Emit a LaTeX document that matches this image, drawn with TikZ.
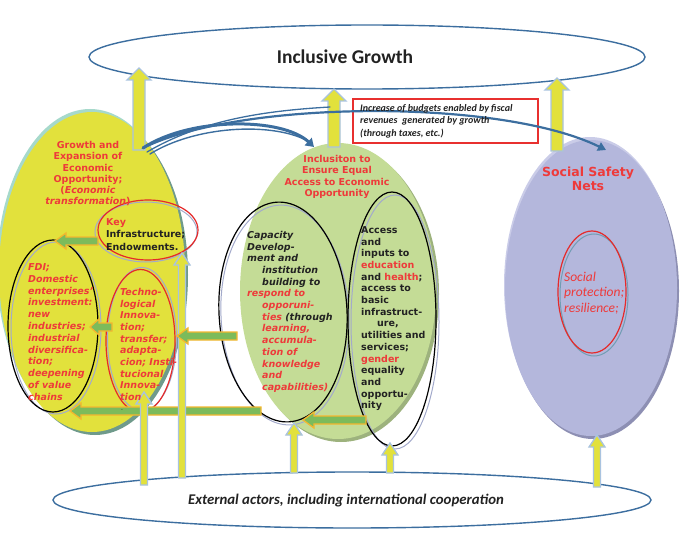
\documentclass[tikz,border=0pt]{standalone}
\usepackage{fontspec}
\setmainfont{DejaVu Sans}
\newfontfamily\calib{Carlito}
\usetikzlibrary{shapes.geometric,arrows.meta,calc}
\definecolor{yel}{HTML}{E2E13C}
\definecolor{yelrim}{HTML}{A6D9CB}
\definecolor{yelshadow}{HTML}{6F9A8B}
\definecolor{grn}{HTML}{C4DC96}
\definecolor{grnshadow}{HTML}{9DB27D}
\definecolor{pur}{HTML}{B4B7DC}
\definecolor{purrim}{HTML}{CACCE8}
\definecolor{purshadow}{HTML}{8D8FB3}
\definecolor{blu}{HTML}{3C6E9F}
\definecolor{txtred}{HTML}{EE3A3A}
\definecolor{boxred}{HTML}{E8302F}
\definecolor{ellred}{HTML}{E52A2A}
\definecolor{arrfill}{HTML}{7CBB5B}
\definecolor{arrborder}{HTML}{F4B72F}
\definecolor{upborder}{HTML}{A9C3DF}
\definecolor{dark}{HTML}{222222}
\definecolor{ghost}{HTML}{A3AACB}
\newcommand{\upblock}[5]{%
  \path[upstyle] let \p1=(#1), \p2=(#2) in
   (\x1-#3pt,\y1) -- (\x1-#3pt,\y2-#5pt) -- (\x1-#4pt,\y2-#5pt) -- (\x1,\y2)
   -- (\x1+#4pt,\y2-#5pt) -- (\x1+#3pt,\y2-#5pt) -- (\x1+#3pt,\y1) -- cycle;}
\newcommand{\lblock}[5]{%
  \path[lstyle] let \p1=(#1), \p2=(#2) in
   (\x1,\y1+#3pt) -- (\x2+#5pt,\y1+#3pt) -- (\x2+#5pt,\y1+#4pt) -- (\x2,\y1)
   -- (\x2+#5pt,\y1-#4pt) -- (\x2+#5pt,\y1-#3pt) -- (\x1,\y1-#3pt) -- cycle;}
\begin{document}
\begin{tikzpicture}[x=1pt,y=-1pt,
  ell/.style={ellipse, inner sep=0pt, outer sep=0pt},
  upstyle/.style={fill=yel, draw=upborder, line width=1.3pt, line join=miter},
  lstyle/.style={fill=arrfill, draw=arrborder, line width=1.3pt, line join=miter},
  vtext/.style={font=\fontsize{9.5}{11.7}\selectfont\bfseries, align=left, anchor=north west, inner sep=0pt},
  ctext/.style={font=\fontsize{9.5}{11.3}\selectfont\bfseries, align=center, anchor=north, inner sep=0pt, text=txtred},
  blackell/.style={ell, draw=black, line width=1.2pt},
  redell/.style={ell, draw=ellred, line width=1.2pt},
  ghostell/.style={ghost, line width=1pt},
  bluecurve/.style={draw=blu, line cap=round}
]
\useasboundingbox (0,0) rectangle (685,559);

% outer goal / actor ellipses
\node[ell, draw=blu, line width=1.4pt, fill=white, minimum width=556pt, minimum height=64pt] (ig) at (367,57) {};
\node[ell, draw=blu, line width=1.4pt, fill=white, minimum width=598pt, minimum height=56pt] (ext) at (352,500) {};

% big ellipses
\fill[yelshadow] (95,275) ellipse [x radius=93, y radius=160];
\fill[yelrim] (90,269) ellipse [x radius=93, y radius=160];
\node[ell, fill=yel, minimum width=186pt, minimum height=320pt] (growth) at (92,272) {};
\fill[grnshadow] (341,294) ellipse [x radius=98, y radius=148];
\node[ell, fill=grn, minimum width=196pt, minimum height=296pt] (incl) at (338,291) {};
\fill[purshadow] (593,291) ellipse [x radius=86, y radius=148];
\fill[purrim] (590,285) ellipse [x radius=86, y radius=148];
\node[ell, fill=pur, minimum width=172pt, minimum height=296pt] (safety) at (591,288) {};

% budget box
\node[draw=boxred, line width=2pt, minimum width=185pt, minimum height=44pt, inner sep=0pt] (budget) at (445.5,121) {};

% arrows up into Inclusive Growth
\coordinate (u1s) at (139,150); \coordinate (u1t) at (139,68);
\coordinate (u2s) at (334,147); \coordinate (u2t) at (334,89);
\coordinate (u3s) at (557,151); \coordinate (u3t) at (557,78);
\upblock{u1s}{u1t}{6}{12}{12}
\upblock{u2s}{u2t}{6}{12}{12}
\upblock{u3s}{u3t}{6}{12}{12}

% inner ellipses
\draw[ghostell] (146,232) ellipse [x radius=51, y radius=30];
\node[redell, minimum width=100pt, minimum height=60pt] (key) at (148,230) {};
\draw[ghostell] (56,328) ellipse [x radius=45, y radius=86];
\node[blackell, minimum width=90pt, minimum height=172pt] (fdi) at (53,326) {};
\draw[ghostell] (142,339) ellipse [x radius=34.5, y radius=71.5];
\node[redell, minimum width=69pt, minimum height=143pt] (tech) at (140.5,341) {};
\draw[ghostell, rotate around={3:(285,315)}] (285,315) ellipse [x radius=64, y radius=110];
\node[blackell, rotate=3, minimum width=128pt, minimum height=220pt] (cap) at (283,312) {};
\draw[ghostell] (395,322) ellipse [x radius=44, y radius=127];
\node[blackell, minimum width=88pt, minimum height=254pt] (acc) at (392,319) {};
\draw[draw=ghost!70!teal, line width=1pt] (594,295) ellipse [x radius=34, y radius=61];
\node[redell, minimum width=68pt, minimum height=122pt] (prot) at (592,292) {};

% long green arrow
\coordinate (g4s) at (261,411); \coordinate (g4t) at (70,411);
\lblock{g4s}{g4t}{4}{8}{11}

% up arrows from external actors
\coordinate (b1s) at (144,485); \coordinate (b1t) at (144,392);
\coordinate (b2s) at (182,478); \coordinate (b2t) at (182,253);
\coordinate (b3s) at (294,473); \coordinate (b3t) at (294,423);
\coordinate (b4s) at (390,473); \coordinate (b4t) at (390,443);
\coordinate (b5s) at (597,487); \coordinate (b5t) at (597,435);
\upblock{b1s}{b1t}{3.5}{8}{12}
\upblock{b2s}{b2t}{3.5}{8}{12}
\upblock{b3s}{b3t}{3.5}{8}{12}
\upblock{b4s}{b4t}{3.5}{8}{12}
\upblock{b5s}{b5t}{3.5}{8}{12}

% other green arrows
\coordinate (g1s) at (98,241); \coordinate (g1t) at (55,241);
\coordinate (g2s) at (112,327); \coordinate (g2t) at (90,327);
\coordinate (g3s) at (237,336); \coordinate (g3t) at (177,336);
\coordinate (g5s) at (366,420); \coordinate (g5t) at (303,420);
\lblock{g1s}{g1t}{4}{8}{11}
\lblock{g2s}{g2t}{4}{8}{9}
\lblock{g3s}{g3t}{4}{8}{11}
\lblock{g5s}{g5t}{4}{8}{11}

% blue fiscal arrows
\coordinate (bs) at (143,148);
\coordinate (bm) at (314,147);
\coordinate (br) at (606,150);
\draw[bluecurve, line width=1.4pt] (150,154) .. controls (195,126) and (270,122) .. (306,140);
\draw[bluecurve, line width=3pt, -{Triangle[width=10pt,length=8pt]}] (bs) .. controls (190,117) and (282,117) .. (bm);
\draw[bluecurve, line width=1.3pt] (147,152) .. controls (200,121) and (260,111) .. (330,107);
\draw[bluecurve, line width=2.2pt, -{Triangle[width=9pt,length=8pt]}] (bs) .. controls (240,100) and (500,98) .. (br);

% texts
\node[font=\calib\fontsize{19.5}{22}\selectfont\bfseries, text=dark, anchor=base, inner sep=0pt] (igtxt) at (345,63.3) {Inclusive Growth};
\node[font=\calib\fontsize{14.8}{17}\selectfont\bfseries\itshape, text=dark, anchor=base, inner sep=0pt] (exttxt) at (346,504.7) {External actors, including international cooperation};
\node[font=\calib\fontsize{10}{12.5}\selectfont\bfseries\itshape, text=dark, align=left, anchor=north west, inner sep=0pt] (budtxt) at (360,102.5)
 {\strut Increase of budgets enabled by fiscal\\revenues\ \ generated by growth\\(through taxes, etc.)};

\node[ctext] (growthtxt) at (88,140.3)
 {\strut Growth and\\Expansion of\\Economic\\Opportunity;\\(\textit{Economic}\\\textit{transformation})};
\node[vtext, font=\fontsize{9.5}{12.5}\selectfont\bfseries, text=dark] (keytxt) at (106,216.5)
 {\strut\textcolor{txtred}{Key}\\Infrastructure;\\Endowments.};
\node[vtext, font=\fontsize{9.5}{11.8}\selectfont\bfseries\itshape, text=txtred] (fditxt) at (28,262)
 {\strut FDI;\\Domestic\\enterprises'\\investment:\\new\\industries;\\industrial\\diversifica-\\tion;\\deepening\\of value\\chains};
\node[vtext, font=\fontsize{9.5}{11.7}\selectfont\bfseries\itshape, text=txtred] (techtxt) at (120,287)
 {\strut Techno-\\logical\\Innova-\\tion;\\transfer;\\adapta-\\cion; Insti-\\tucional\\Innova-\\tion};
\node[font=\fontsize{6}{7}\selectfont, text=dark, inner sep=0pt] (dot) at (122,410) {.};

\node[ctext] (incltxt) at (337,154.3)
 {\strut Inclusiton to\\Ensure Equal\\Access to Economic\\Opportunity};
\node[vtext, font=\fontsize{9.5}{11.7}\selectfont\bfseries\itshape, text=dark] (captxt) at (247,230)
 {\strut Capacity\\Develop-\\ment and\\\hspace*{15pt}institution\\\hspace*{15pt}building to\\\textcolor{txtred}{respond to}\\\hspace*{15pt}\textcolor{txtred}{opporuni-}\\\hspace*{15pt}\textcolor{txtred}{ties} (through\\\hspace*{15pt}\textcolor{txtred}{learning,}\\\hspace*{15pt}\textcolor{txtred}{accumula-}\\\hspace*{15pt}\textcolor{txtred}{tion of}\\\hspace*{15pt}\textcolor{txtred}{knowledge}\\\hspace*{15pt}\textcolor{txtred}{and}\\\hspace*{15pt}\textcolor{txtred}{capabilities)}};
\node[vtext, text=dark] (acctxt) at (361,225)
 {\strut Access\\and\\inputs to\\\textcolor{txtred}{education}\\and \textcolor{txtred}{health};\\access to\\basic\\infrastruct-\\\hspace*{16pt}ure,\\utilities and\\services;\\\textcolor{txtred}{gender}\\equality\\and\\opportu-\\nity};

\node[ctext, font=\fontsize{12.5}{13}\selectfont\bfseries] (safetytxt) at (588,166.9)
 {\strut Social Safety\\Nets};
\node[vtext, font=\calib\fontsize{13.5}{15.3}\selectfont\itshape, text=txtred] (prottxt) at (564,270.6)
 {\strut Social\\protection;\\resilience;};
\end{tikzpicture}
\end{document}
